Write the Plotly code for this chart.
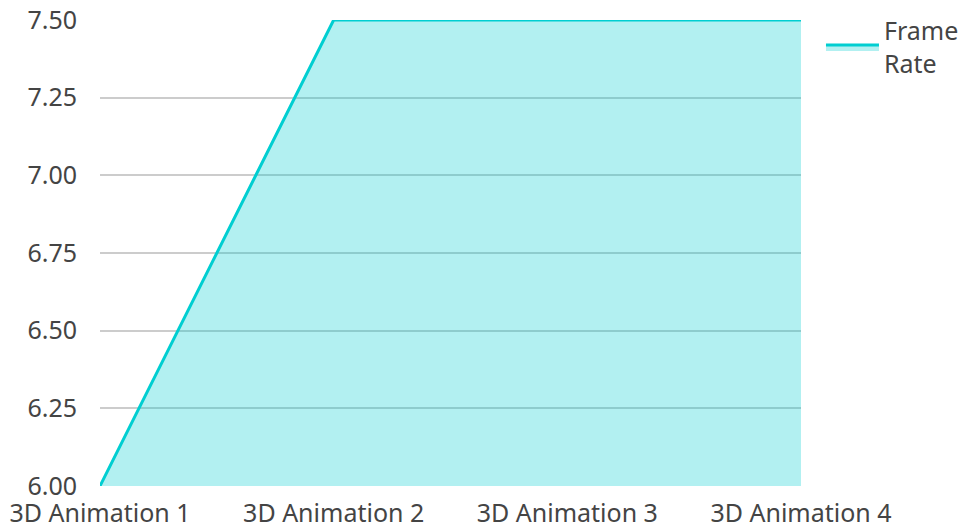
import plotly.graph_objects as go

categories = ["3D Animation 1", "3D Animation 2", "3D Animation 3", "3D Animation 4"]
frame_rate = [6.0, 7.5, 7.5, 7.5]
series_name = "Frame<br>Rate"
y_ticks = [6.0, 6.25, 6.5, 6.75, 7.0, 7.25, 7.5]

fig = go.Figure()
fig.add_trace(go.Scatter(
    x=categories, y=frame_rate, name=series_name, mode="lines",
    line=dict(color="#00CED1", width=3),
    fill="tozeroy", fillcolor="rgba(0,206,209,0.3)",
))
fig.update_layout(
    width=961, height=526,
    margin=dict(l=100, r=160, t=20, b=40, autoexpand=False),
    paper_bgcolor="white", plot_bgcolor="white",
    font=dict(family="Noto Sans", size=25, color="#444"),
    showlegend=True,
    legend=dict(x=1.0285, y=1.026, xanchor="left", yanchor="top", itemwidth=53,
                font=dict(size=25), bgcolor="rgba(0,0,0,0)"),
    xaxis=dict(showgrid=False, showline=False, ticks="", automargin=False,
               ticklabelstandoff=10, ticklabeloverflow="allow", tickfont=dict(size=25)),
    yaxis=dict(range=[6.0, 7.5], tickvals=y_ticks, automargin=False,
               tickformat=".2f", gridcolor="#ccc", gridwidth=2, zeroline=False,
               ticks="", ticklabelstandoff=22, ticklabeloverflow="allow",
               tickfont=dict(size=25)),
)
fig.write_html(
    "out.html",
    config={"displayModeBar": False},
    post_script="document.body.style.margin='0';document.body.style.overflow='hidden';",
)
